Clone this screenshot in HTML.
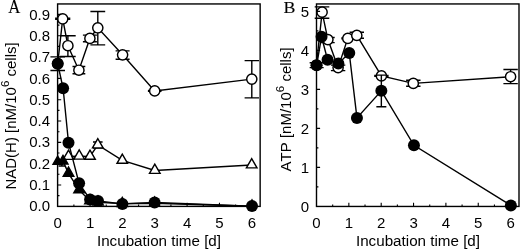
<!DOCTYPE html>
<html><head><meta charset="utf-8"><title>Figure</title>
<style>
html,body{margin:0;padding:0;background:#fff;}
svg{display:block;}
text{font-kerning:none;font-family:"Liberation Sans",Arial,sans-serif;font-size:15px;fill:#000;}
text.s{font-family:"Liberation Serif","Times New Roman",serif;font-size:18.5px;stroke:#000;stroke-width:0.12px;}
</style></head><body>
<svg width="520" height="249" viewBox="0 0 520 249">
<defs><filter id="soft" x="0" y="0" width="520" height="249" filterUnits="userSpaceOnUse"><feGaussianBlur stdDeviation="0.35"/></filter></defs>
<rect width="520" height="249" fill="#fff"/>
<g filter="url(#soft)">
<clipPath id="ca"><rect x="0" y="3.95" width="260.15" height="210.45000000000002"/></clipPath>
<g>
<path d="M57.7 161.4 L63 161.1 L68.5 156.5 L79.2 156.2 L90 156.4 L97.8 145 L122.3 160.4 L154.8 170.5 L251.7 165" fill="none" stroke="#000" stroke-width="1.4"/>
<path d="M93 142H102.6M93 148H102.6M97.8 142V148" fill="none" stroke="#000" stroke-width="1.4"/>
<polygon points="68.5,150.21 63.2,159.39 73.8,159.39" fill="#fff" stroke="#000" stroke-width="1.4" stroke-linejoin="miter"/>
<polygon points="79.2,149.91 73.9,159.09 84.5,159.09" fill="#fff" stroke="#000" stroke-width="1.4" stroke-linejoin="miter"/>
<polygon points="90,150.11 84.7,159.29 95.3,159.29" fill="#fff" stroke="#000" stroke-width="1.4" stroke-linejoin="miter"/>
<polygon points="97.8,138.71 92.5,147.89 103.1,147.89" fill="#fff" stroke="#000" stroke-width="1.4" stroke-linejoin="miter"/>
<polygon points="122.3,154.11 117,163.29 127.6,163.29" fill="#fff" stroke="#000" stroke-width="1.4" stroke-linejoin="miter"/>
<polygon points="154.8,164.21 149.5,173.39 160.1,173.39" fill="#fff" stroke="#000" stroke-width="1.4" stroke-linejoin="miter"/>
<polygon points="251.7,158.71 246.4,167.89 257,167.89" fill="#fff" stroke="#000" stroke-width="1.4" stroke-linejoin="miter"/>
<path d="M57.7 161.4 L63 161.1 L68.5 173.3 L79.1 189.9 L90 201 L98 202.2 L122.3 203.6 L154.6 203.3 L252 206.3" fill="none" stroke="#000" stroke-width="1.4"/>
<path d="M58.6 162H65M58.6 166H65M61.8 162V166" fill="none" stroke="#000" stroke-width="1.4"/>
<polygon points="57.7,156.15 53,164.29 62.4,164.29" fill="#000" stroke="#000" stroke-width="1.4" stroke-linejoin="miter"/>
<polygon points="63,155.33 58,163.99 68,163.99" fill="#000" stroke="#000" stroke-width="1.4" stroke-linejoin="miter"/>
<polygon points="68.5,167.01 63.2,176.19 73.8,176.19" fill="#000" stroke="#000" stroke-width="1.4" stroke-linejoin="miter"/>
<polygon points="79.1,183.61 73.8,192.79 84.4,192.79" fill="#000" stroke="#000" stroke-width="1.4" stroke-linejoin="miter"/>
<polygon points="90,194.71 84.7,203.89 95.3,203.89" fill="#000" stroke="#000" stroke-width="1.4" stroke-linejoin="miter"/>
<polygon points="98,195.91 92.7,205.09 103.3,205.09" fill="#000" stroke="#000" stroke-width="1.4" stroke-linejoin="miter"/>
<polygon points="122.3,197.31 117,206.49 127.6,206.49" fill="#000" stroke="#000" stroke-width="1.4" stroke-linejoin="miter"/>
<polygon points="154.6,197.01 149.3,206.19 159.9,206.19" fill="#000" stroke="#000" stroke-width="1.4" stroke-linejoin="miter"/>
<polygon points="252,198.6 248.6,204.5 255.4,204.5" fill="#000"/>
<g clip-path="url(#ca)"><path d="M57.7 63.6 L62.7 18.8 L67.9 45.7 L78.9 70.2 L89.9 38.4 L97.8 27.8 L122.6 54.8 L154.7 90.9 L251.8 79.1" fill="none" stroke="#000" stroke-width="1.4"/>
<path d="M55.1 18.3H70.3M55.1 19.3H70.3M62.7 18.3V19.3" fill="none" stroke="#000" stroke-width="1.4"/>
<path d="M60.1 35.7H75.7M60.1 56.5H75.7M67.9 35.7V56.5" fill="none" stroke="#000" stroke-width="1.4"/>
<path d="M72.5 66.5H85.3M72.5 73.7H85.3M78.9 66.5V73.7" fill="none" stroke="#000" stroke-width="1.4"/>
<path d="M82.9 35.1H96.9M82.9 41.7H96.9M89.9 35.1V41.7" fill="none" stroke="#000" stroke-width="1.4"/>
<path d="M90.4 11.5H105.2M90.4 44.9H105.2M97.8 11.5V44.9" fill="none" stroke="#000" stroke-width="1.4"/>
<path d="M115.6 50.9H129.6M115.6 59.2H129.6M122.6 50.9V59.2" fill="none" stroke="#000" stroke-width="1.4"/>
<path d="M147.9 90.4H161.5M147.9 91.4H161.5M154.7 90.4V91.4" fill="none" stroke="#000" stroke-width="1.4"/>
<path d="M244.6 60.6H259M244.6 97.9H259M251.8 60.6V97.9" fill="none" stroke="#000" stroke-width="1.4"/>
<circle cx="57.7" cy="63.6" r="5.1" fill="#fff" stroke="#000" stroke-width="1.45"/>
<circle cx="62.7" cy="18.8" r="5.1" fill="#fff" stroke="#000" stroke-width="1.45"/>
<circle cx="67.9" cy="45.7" r="5.1" fill="#fff" stroke="#000" stroke-width="1.45"/>
<circle cx="78.9" cy="70.2" r="5.1" fill="#fff" stroke="#000" stroke-width="1.45"/>
<circle cx="89.9" cy="38.4" r="5.1" fill="#fff" stroke="#000" stroke-width="1.45"/>
<circle cx="97.8" cy="27.8" r="5.1" fill="#fff" stroke="#000" stroke-width="1.45"/>
<circle cx="122.6" cy="54.8" r="5.1" fill="#fff" stroke="#000" stroke-width="1.45"/>
<circle cx="154.7" cy="90.9" r="5.1" fill="#fff" stroke="#000" stroke-width="1.45"/>
<circle cx="251.8" cy="79.1" r="5.1" fill="#fff" stroke="#000" stroke-width="1.45"/></g>
<path d="M57.7 63.75 L63.1 88.25 L68.5 142.75 L79.1 183.35 L90.1 199.45 L98 201 L122.4 203.9 L154.6 202.55 L252 206.1" fill="none" stroke="#000" stroke-width="1.4"/>
<path d="M50.4 56.9H65M50.4 70.5H65M57.7 56.9V70.5" fill="none" stroke="#000" stroke-width="1.4"/>
<circle cx="57.7" cy="63.75" r="6" fill="#000"/>
<circle cx="63.1" cy="88.25" r="6" fill="#000"/>
<circle cx="68.5" cy="142.75" r="6" fill="#000"/>
<circle cx="79.1" cy="183.35" r="6" fill="#000"/>
<circle cx="90.1" cy="199.45" r="6" fill="#000"/>
<circle cx="98" cy="201" r="6" fill="#000"/>
<circle cx="122.4" cy="203.9" r="6" fill="#000"/>
<circle cx="154.6" cy="202.55" r="6" fill="#000"/>
<circle cx="252" cy="206.1" r="6" fill="#000"/>
</g>
<rect x="57.6" y="3.95" width="202.55" height="202.45" fill="none" stroke="#000" stroke-width="1.4"/>
<path d="M90.05 206.4v-3.6M122.4 206.4v-3.6M154.75 206.4v-3.6M187.1 206.4v-3.6M219.45 206.4v-3.6M251.8 206.4v-3.6M73.88 206.4v-1.9M106.23 206.4v-1.9M138.57 206.4v-1.9M170.93 206.4v-1.9M203.28 206.4v-1.9M235.62 206.4v-1.9M57.6 184.98h3.6M57.6 163.66h3.6M57.6 142.34h3.6M57.6 121.02h3.6M57.6 99.7h3.6M57.6 78.38h3.6M57.6 57.06h3.6M57.6 35.74h3.6M57.6 14.42h3.6M57.6 195.64h1.9M57.6 174.32h1.9M57.6 153h1.9M57.6 131.68h1.9M57.6 110.36h1.9M57.6 89.04h1.9M57.6 67.72h1.9M57.6 46.4h1.9M57.6 25.08h1.9" fill="none" stroke="#000" stroke-width="1.1"/>
<text x="50" y="211.45" text-anchor="end">0.0</text>
<text x="50" y="190.13" text-anchor="end">0.1</text>
<text x="50" y="168.81" text-anchor="end">0.2</text>
<text x="50" y="147.49" text-anchor="end">0.3</text>
<text x="50" y="126.17" text-anchor="end">0.4</text>
<text x="50" y="104.85" text-anchor="end">0.5</text>
<text x="50" y="83.53" text-anchor="end">0.6</text>
<text x="50" y="62.21" text-anchor="end">0.7</text>
<text x="50" y="40.89" text-anchor="end">0.8</text>
<text x="50" y="19.57" text-anchor="end">0.9</text>
<text x="57.7" y="227.8" text-anchor="middle">0</text>
<text x="90.05" y="227.8" text-anchor="middle">1</text>
<text x="122.4" y="227.8" text-anchor="middle">2</text>
<text x="154.75" y="227.8" text-anchor="middle">3</text>
<text x="187.1" y="227.8" text-anchor="middle">4</text>
<text x="219.45" y="227.8" text-anchor="middle">5</text>
<text x="251.8" y="227.8" text-anchor="middle">6</text>
<text x="159.0" y="245.6" style="font-size:15.2px" text-anchor="middle">Incubation time [d]</text>
<text transform="translate(16.1 189.6) rotate(-90)">NAD(H) [nM/10<tspan dy="-7" font-size="11.5">6</tspan><tspan dy="7"> cells]</tspan></text>
<text transform="translate(8.2 12.6) scale(0.93 1)" class="s" style="font-size:18px">A</text>
<clipPath id="cb"><rect x="270" y="3.95" width="249.0" height="210.5"/></clipPath>
<g clip-path="url(#cb)"><path d="M316.4 65.2 L322.1 12.15 L327.9 39.6 L338.1 67.6 L347.8 38.4 L356.8 35.4 L381.4 75.9 L413.3 83.4 L510.6 76.7" fill="none" stroke="#000" stroke-width="1.4"/>
<path d="M314.7 6.9H329.3M314.7 18.2H329.3M322 6.9V18.2" fill="none" stroke="#000" stroke-width="1.4"/>
<path d="M321.1 37.5H334.7M321.1 42.6H334.7M327.9 37.5V42.6" fill="none" stroke="#000" stroke-width="1.4"/>
<path d="M330.9 65.1H345.3M330.9 70.6H345.3M338.1 65.1V70.6" fill="none" stroke="#000" stroke-width="1.4"/>
<path d="M341.3 37.9H354.3M341.3 38.9H354.3M347.8 37.9V38.9" fill="none" stroke="#000" stroke-width="1.4"/>
<path d="M349.6 32.3H364M349.6 38.3H364M356.8 32.3V38.3" fill="none" stroke="#000" stroke-width="1.4"/>
<path d="M374.2 75.4H388.6M374.2 76.4H388.6M381.4 75.4V76.4" fill="none" stroke="#000" stroke-width="1.4"/>
<path d="M406.1 80.3H420.5M406.1 86.3H420.5M413.3 80.3V86.3" fill="none" stroke="#000" stroke-width="1.4"/>
<path d="M503.4 69.5H517.8M503.4 83.6H517.8M510.6 69.5V83.6" fill="none" stroke="#000" stroke-width="1.4"/>
<circle cx="316.4" cy="65.2" r="5.1" fill="#fff" stroke="#000" stroke-width="1.45"/>
<circle cx="322.1" cy="12.15" r="5.1" fill="#fff" stroke="#000" stroke-width="1.45"/>
<circle cx="327.9" cy="39.6" r="5.1" fill="#fff" stroke="#000" stroke-width="1.45"/>
<circle cx="338.1" cy="67.6" r="5.1" fill="#fff" stroke="#000" stroke-width="1.45"/>
<circle cx="347.8" cy="38.4" r="5.1" fill="#fff" stroke="#000" stroke-width="1.45"/>
<circle cx="356.8" cy="35.4" r="5.1" fill="#fff" stroke="#000" stroke-width="1.45"/>
<circle cx="381.4" cy="75.9" r="5.1" fill="#fff" stroke="#000" stroke-width="1.45"/>
<circle cx="413.3" cy="83.4" r="5.1" fill="#fff" stroke="#000" stroke-width="1.45"/>
<circle cx="510.6" cy="76.7" r="5.1" fill="#fff" stroke="#000" stroke-width="1.45"/></g>
<path d="M316.65 65.35 L321.55 36.75 L327.55 59.65 L338.35 63.55 L349.25 52.95 L356.95 117.95 L381.35 90.85 L413.95 145.35 L510.85 205.45" fill="none" stroke="#000" stroke-width="1.4"/>
<path d="M309.65 62.8H323.65M309.65 67.6H323.65M316.65 62.8V67.6" fill="none" stroke="#000" stroke-width="1.4"/>
<path d="M376.35 75.1H386.35M376.35 106.7H386.35M381.35 75.1V106.7" fill="none" stroke="#000" stroke-width="1.4"/>
<circle cx="316.65" cy="65.35" r="6" fill="#000"/>
<circle cx="321.55" cy="36.75" r="6" fill="#000"/>
<circle cx="327.55" cy="59.65" r="6" fill="#000"/>
<circle cx="338.35" cy="63.55" r="6" fill="#000"/>
<circle cx="349.25" cy="52.95" r="6" fill="#000"/>
<circle cx="356.95" cy="117.95" r="6" fill="#000"/>
<circle cx="381.35" cy="90.85" r="6" fill="#000"/>
<circle cx="413.95" cy="145.35" r="6" fill="#000"/>
<circle cx="510.85" cy="205.45" r="6" fill="#000"/>
<rect x="316.5" y="3.95" width="202.5" height="202.5" fill="none" stroke="#000" stroke-width="1.4"/>
<path d="M348.85 206.45v-3.6M381.2 206.45v-3.6M413.55 206.45v-3.6M445.9 206.45v-3.6M478.25 206.45v-3.6M510.6 206.45v-3.6M332.68 206.45v-1.9M365.02 206.45v-1.9M397.38 206.45v-1.9M429.73 206.45v-1.9M462.08 206.45v-1.9M494.43 206.45v-1.9M316.5 167.4h3.6M316.5 128.4h3.6M316.5 89.4h3.6M316.5 50.4h3.6M316.5 11.4h3.6M316.5 186.9h1.9M316.5 147.9h1.9M316.5 108.9h1.9M316.5 69.9h1.9M316.5 30.9h1.9" fill="none" stroke="#000" stroke-width="1.1"/>
<text x="309" y="211.55" text-anchor="end">0</text>
<text x="309" y="172.55" text-anchor="end">1</text>
<text x="309" y="133.55" text-anchor="end">2</text>
<text x="309" y="94.55" text-anchor="end">3</text>
<text x="309" y="55.55" text-anchor="end">4</text>
<text x="309" y="16.55" text-anchor="end">5</text>
<text x="316.5" y="227.8" text-anchor="middle">0</text>
<text x="348.85" y="227.8" text-anchor="middle">1</text>
<text x="381.2" y="227.8" text-anchor="middle">2</text>
<text x="413.55" y="227.8" text-anchor="middle">3</text>
<text x="445.9" y="227.8" text-anchor="middle">4</text>
<text x="478.25" y="227.8" text-anchor="middle">5</text>
<text x="510.6" y="227.8" text-anchor="middle">6</text>
<text x="418.0" y="245.6" style="font-size:15.2px" text-anchor="middle">Incubation time [d]</text>
<text transform="translate(290.9 171.4) rotate(-90)">ATP [nM/10<tspan dy="-7" font-size="11.5">6</tspan><tspan dy="7"> cells]</tspan></text>
<text transform="translate(283.6 12.5) scale(1.05 1)" class="s" style="font-size:17px">B</text>
</g>
</svg>
</body></html>
